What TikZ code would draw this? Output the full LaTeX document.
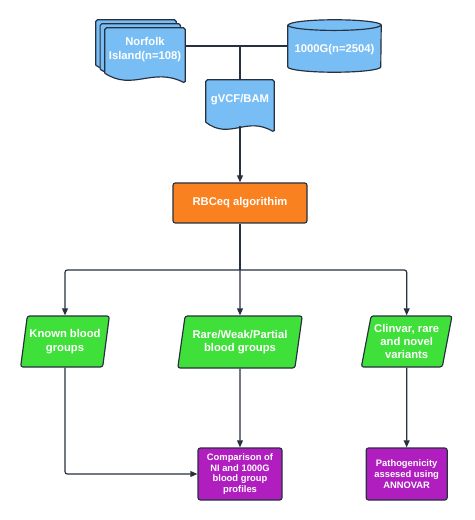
\documentclass[tikz,border=0pt]{standalone}
\usepackage{fontspec}
\setmainfont{Liberation Sans}
\usetikzlibrary{shapes.geometric, arrows.meta, calc}
\definecolor{docBlue}{HTML}{78BEF5}
\definecolor{algoOrange}{HTML}{FA8120}
\definecolor{groupGreen}{HTML}{40E03A}
\definecolor{resultPurple}{HTML}{B11EC0}
\definecolor{lineDark}{HTML}{27303F}
\tikzset{
  every node/.style={font=\fontsize{9.6}{11.3}\selectfont\bfseries, text=white, align=center},
  smallText/.style={font=\fontsize{8}{9.2}\selectfont\bfseries},
  docBox/.style={minimum width=#1, inner sep=1pt},
  docLine/.style={draw=lineDark, line width=1pt, fill=docBlue, rounded corners=1.5pt},
  flowBox/.style={draw=lineDark, line width=1pt, rounded corners=2pt, fill=#1},
  ioBox/.style={draw=lineDark, line width=1pt, fill=groupGreen, trapezium, trapezium left angle=76,
    trapezium right angle=104, trapezium stretches=true, rounded corners=2pt, inner sep=1pt},
  link/.style={draw=lineDark, line width=1pt},
  arrow/.style={link, -{Triangle[length=6pt,width=5pt]}}
}
% document with a wavy bottom, drawn round a node; #2 shifts it
\newcommand{\docShape}[3]{%
  \path[docLine] ($(#1.south west)+(#2)$) -- ($(#1.north west)+(#2)$) -- ($(#1.north east)+(#2)$)
    -- ($(#1.south east)+(#2)+(0,-0.3)$)
    .. controls ($(#1.south west)+(#2)+(0.6*#3,0.2)$) and ($(#1.south west)+(#2)+(0.35*#3,-0.55)$) .. ($(#1.south west)+(#2)$);
}
\begin{document}
\begin{tikzpicture}
\useasboundingbox (0,0) rectangle (14.22,-15.6);

% inputs
\node[docBox=2.4cm, minimum height=1.35cm] (norfolk) at (4.35,-1.515) {};
\docShape{norfolk}{-0.27,0.24}{2.4}
\docShape{norfolk}{-0.14,0.12}{2.4}
\docShape{norfolk}{0,0}{2.4}
\node at ($(norfolk)+(0,0.03)$) {Norfolk\\Island(n=108)};

\node[minimum width=2.79cm, minimum height=1.56cm] (kgenomes) at (10.035,-1.38) {};
\path[docLine, rounded corners=0pt] ($(kgenomes.north west)+(0,-0.16)$) -- ($(kgenomes.south west)+(0,0.16)$)
  arc[start angle=180, end angle=360, x radius=1.395, y radius=0.16]
  -- ($(kgenomes.north east)+(0,-0.16)$)
  arc[start angle=0, end angle=180, x radius=1.395, y radius=0.16] -- cycle;
\draw[draw=lineDark, line width=1pt] ($(kgenomes.north west)+(0,-0.16)$)
  arc[start angle=180, end angle=360, x radius=1.395, y radius=0.16];
\node at ($(kgenomes)+(0,-0.12)$) {1000G(n=2504)};

\node[docBox=2.04cm, minimum height=1.26cm] (gvcfBam) at (7.2,-3.03) {};
\docShape{gvcfBam}{0,0}{2.04}
\node at ($(gvcfBam)+(0,0.03)$) {gVCF/BAM};

% algorithm
\node[flowBox=algoOrange, minimum width=4.02cm, minimum height=1.2cm] (rbceq) at (7.2,-6.09) {RBCeq algorithim};

% blood group outputs
\node[ioBox, minimum width=2.67cm, minimum height=1.53cm] (knownGroups) at (1.95,-10.245) {Known blood\\groups};
\node[ioBox, minimum width=3.75cm, minimum height=1.56cm] (rareGroups) at (7.2,-10.26) {Rare/Weak/Partial\\blood groups};
\node[ioBox, minimum width=2.73cm, minimum height=1.53cm] (clinvar) at (12.2,-10.245) {Clinvar, rare\\and novel\\variants};

% results
\node[flowBox=resultPurple, smallText, minimum width=2.52cm, minimum height=1.56cm] (comparison) at (7.2,-14.22) {Comparison of\\NI and 1000G\\blood group\\profiles};
\node[flowBox=resultPurple, smallText, minimum width=2.43cm, minimum height=1.56cm] (pathogenicity) at (12.2,-14.22) {Pathogenicity\\assesed using\\ANNOVAR};

\coordinate (split) at (7.2,-8.1);

\draw[link] (kgenomes.west) -- (kgenomes.west -| norfolk.east);
\draw[link] (gvcfBam.north) -- (gvcfBam.north |- kgenomes.west);
\draw[arrow] ($(gvcfBam.south)+(0,-0.1)$) -- (rbceq.north);
\draw[link] (rbceq.south) -- (split);
\draw[arrow, rounded corners=2pt] (split) -| (knownGroups.north);
\draw[arrow] (split) -- (rareGroups.north);
\draw[arrow, rounded corners=2pt] (split) -| (clinvar.north);
\draw[arrow, rounded corners=2pt] (knownGroups.south) |- (comparison.west);
\draw[arrow] (rareGroups.south) -- (comparison.north);
\draw[arrow] (clinvar.south) -- (pathogenicity.north);
\end{tikzpicture}
\end{document}
